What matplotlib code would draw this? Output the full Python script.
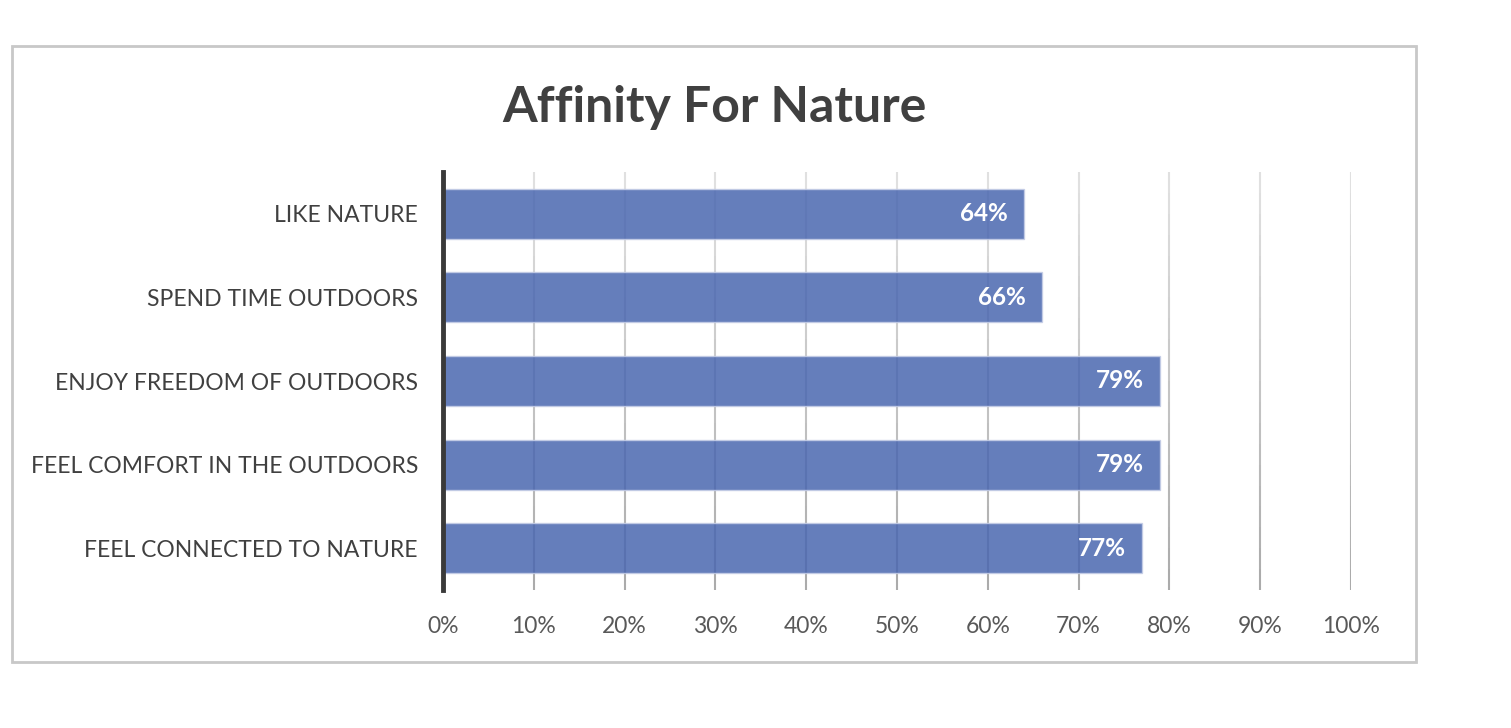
import numpy as np
import matplotlib.pyplot as plt
from matplotlib.patches import Rectangle

categories = ['LIKE NATURE', 'SPEND TIME OUTDOORS', 'ENJOY FREEDOM OF OUTDOORS',
              'FEEL COMFORT IN THE OUTDOORS', 'FEEL CONNECTED TO NATURE']
values = [64, 66, 79, 79, 77]
ticks = [0, 10, 20, 30, 40, 50, 60, 70, 80, 90, 100]
title = 'Affinity For Nature'

plt.rcParams['font.family'] = ['Lato', 'DejaVu Sans']

fig = plt.figure(figsize=(15.11, 7.28), dpi=100)
fig.patches.append(Rectangle((12 / 1511, 1 - 662 / 728), 1404 / 1511, 616 / 728,
                             transform=fig.transFigure, fill=False,
                             edgecolor='#c8c8c8', linewidth=2))

ax = fig.add_axes([443 / 1511, 1 - 590 / 728, 908 / 1511, 418 / 728])
y = np.arange(len(categories))

# gridlines with a light-to-dark fade
for t in ticks[1:]:
    n = 20
    ys = np.linspace(-0.5, 4.5, n + 1)
    for i in range(n):
        shade = 0.88 - 0.22 * (i / n)
        ax.plot([t, t], [ys[i], ys[i + 1]], color=(shade, shade, shade),
                linewidth=1.5, zorder=1, solid_capstyle='butt')

ax.barh(y, values, height=0.6, color='#4a67b0', alpha=0.85,
        edgecolor='#c5cde6', linewidth=1, zorder=2)

for yi, v in zip(y, values):
    ax.text(v - 1.8, yi, f'{v}%', ha='right', va='center', color='white',
            fontsize=17.5, fontweight='bold', zorder=3)

ax.set_xlim(0, 100)
ax.set_ylim(4.5, -0.5)
ax.set_yticks(y)
ax.set_yticklabels(categories, fontsize=16.5, color='#404040')
ax.set_xticks(ticks)
ax.set_xticklabels([f'{t}%' for t in ticks], fontsize=16.5, color='#595959')
ax.tick_params(axis='both', length=0)
ax.tick_params(axis='y', pad=18)
ax.tick_params(axis='x', pad=19)
for s in ['top', 'right', 'bottom']:
    ax.spines[s].set_visible(False)
ax.spines['left'].set_color('#3a3a3a')
ax.spines['left'].set_linewidth(3.5)
ax.spines['left'].set_zorder(4)

fig.text(714 / 1511, 1 - 107 / 728, title, ha='center', va='center',
         fontsize=36, fontweight='bold', color='#404040')

fig.savefig('out.png', dpi=100, facecolor='white')
